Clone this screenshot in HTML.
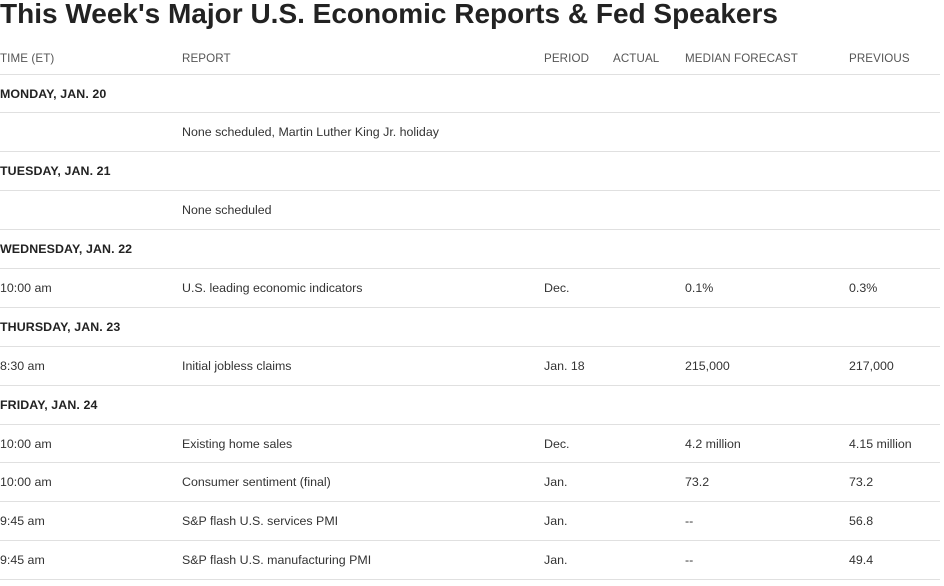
<!DOCTYPE html>
<html><head><style>
body{margin:0;width:944px;height:586px;background:#fff;font-family:"Liberation Sans",sans-serif;position:relative;overflow:hidden;color:#333}
.t{position:absolute;left:0;top:-2px;font-size:28px;font-weight:bold;color:#222;white-space:nowrap;letter-spacing:0px}
.l{position:absolute;left:0;width:940px;height:1px;background:#e0e0e0}
.c{position:absolute;font-size:12.4px;white-space:nowrap;line-height:14px;margin-top:1px}
.h{color:#555;font-size:11.6px;letter-spacing:0.1px}
.b{font-weight:bold;color:#222;font-size:12.4px;letter-spacing:0.1px}
</style></head><body>
<div class="t">This Week's Major U.S. Economic Reports &amp; Fed Speakers</div>
<div class="c h" style="left:0;top:51px">TIME (ET)</div>
<div class="c h" style="left:182px;top:51px">REPORT</div>
<div class="c h" style="left:544px;top:51px">PERIOD</div>
<div class="c h" style="left:613px;top:51px">ACTUAL</div>
<div class="c h" style="left:685px;top:51px">MEDIAN FORECAST</div>
<div class="c h" style="left:849px;top:51px">PREVIOUS</div>
<div class="l" style="top:74px"></div>
<div class="c b" style="left:0;top:86px">MONDAY, JAN. 20</div>
<div class="l" style="top:112px"></div>
<div class="c" style="left:182px;top:124px">None scheduled, Martin Luther King Jr. holiday</div>
<div class="l" style="top:151px"></div>
<div class="c b" style="left:0;top:163px">TUESDAY, JAN. 21</div>
<div class="l" style="top:190px"></div>
<div class="c" style="left:182px;top:202px">None scheduled</div>
<div class="l" style="top:229px"></div>
<div class="c b" style="left:0;top:241px">WEDNESDAY, JAN. 22</div>
<div class="l" style="top:268px"></div>
<div class="c" style="left:0;top:280px">10:00 am</div>
<div class="c" style="left:182px;top:280px">U.S. leading economic indicators</div>
<div class="c" style="left:544px;top:280px">Dec.</div>
<div class="c" style="left:685px;top:280px">0.1%</div>
<div class="c" style="left:849px;top:280px">0.3%</div>
<div class="l" style="top:307px"></div>
<div class="c b" style="left:0;top:319px">THURSDAY, JAN. 23</div>
<div class="l" style="top:346px"></div>
<div class="c" style="left:0;top:358px">8:30 am</div>
<div class="c" style="left:182px;top:358px">Initial jobless claims</div>
<div class="c" style="left:544px;top:358px">Jan. 18</div>
<div class="c" style="left:685px;top:358px">215,000</div>
<div class="c" style="left:849px;top:358px">217,000</div>
<div class="l" style="top:385px"></div>
<div class="c b" style="left:0;top:397px">FRIDAY, JAN. 24</div>
<div class="l" style="top:424px"></div>
<div class="c" style="left:0;top:436px">10:00 am</div>
<div class="c" style="left:182px;top:436px">Existing home sales</div>
<div class="c" style="left:544px;top:436px">Dec.</div>
<div class="c" style="left:685px;top:436px">4.2 million</div>
<div class="c" style="left:849px;top:436px">4.15 million</div>
<div class="l" style="top:462px"></div>
<div class="c" style="left:0;top:474px">10:00 am</div>
<div class="c" style="left:182px;top:474px">Consumer sentiment (final)</div>
<div class="c" style="left:544px;top:474px">Jan.</div>
<div class="c" style="left:685px;top:474px">73.2</div>
<div class="c" style="left:849px;top:474px">73.2</div>
<div class="l" style="top:501px"></div>
<div class="c" style="left:0;top:513px">9:45 am</div>
<div class="c" style="left:182px;top:513px">S&amp;P flash U.S. services PMI</div>
<div class="c" style="left:544px;top:513px">Jan.</div>
<div class="c" style="left:685px;top:513px">--</div>
<div class="c" style="left:849px;top:513px">56.8</div>
<div class="l" style="top:540px"></div>
<div class="c" style="left:0;top:552px">9:45 am</div>
<div class="c" style="left:182px;top:552px">S&amp;P flash U.S. manufacturing PMI</div>
<div class="c" style="left:544px;top:552px">Jan.</div>
<div class="c" style="left:685px;top:552px">--</div>
<div class="c" style="left:849px;top:552px">49.4</div>
<div class="l" style="top:579px"></div>
</body></html>
